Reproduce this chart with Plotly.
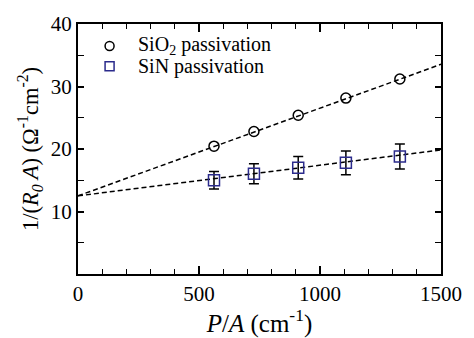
import plotly.graph_objects as go

# Data
pa_x = [562, 727, 910, 1107, 1330]
sio2_y = [20.45, 22.8, 25.4, 28.15, 31.2]
sin_y = [15.0, 16.05, 17.0, 17.8, 18.8]
sin_err = [1.4, 1.6, 1.8, 1.9, 2.0]
fit_x = [0, 1500]
fit_sio2 = [12.5, 33.55]
fit_sin = [12.5, 19.85]
legend_names = ["SiO<sub>2</sub> passivation", "SiN passivation"]

FONT = "Liberation Serif"
navy = "#2b2b8c"

fig = go.Figure()
fig.add_trace(go.Scatter(x=fit_x, y=fit_sio2, mode="lines", showlegend=False,
                         line=dict(color="black", width=1.5, dash="5px,3px")))
fig.add_trace(go.Scatter(x=fit_x, y=fit_sin, mode="lines", showlegend=False,
                         line=dict(color="black", width=1.5, dash="5px,3px")))
fig.add_trace(go.Scatter(x=pa_x, y=sio2_y, mode="markers", name=legend_names[0], showlegend=False,
                         marker=dict(symbol="circle-open", size=10, color="black",
                                     line=dict(width=1.5, color="black"))))
fig.add_trace(go.Scatter(x=pa_x, y=sin_y, mode="markers", name=legend_names[1], showlegend=False,
                         error_y=dict(type="data", array=sin_err, color="black", thickness=1.5, width=5),
                         marker=dict(symbol="square-open", size=11, color=navy,
                                     line=dict(width=1.5, color=navy))))

# manual legend
leg_x, leg_y = 0.087, [0.912, 0.831]
fig.add_shape(type="circle", xref="paper", yref="paper", xsizemode="pixel", ysizemode="pixel",
              xanchor=leg_x, yanchor=leg_y[0], x0=-4.5, x1=4.5, y0=-4.5, y1=4.5,
              line=dict(color="black", width=1.5))
fig.add_shape(type="rect", xref="paper", yref="paper", xsizemode="pixel", ysizemode="pixel",
              xanchor=leg_x, yanchor=leg_y[1], x0=-4.5, x1=4.5, y0=-4.5, y1=4.5,
              line=dict(color=navy, width=1.5))
for name, yy in zip(legend_names, leg_y):
    fig.add_annotation(text=name, xref="paper", yref="paper", x=0.161, y=yy,
                       xanchor="left", yanchor="middle", showarrow=False,
                       font=dict(family=FONT, size=20, color="black"))

axis_common = dict(showline=True, linecolor="black", linewidth=2, mirror="ticks",
                   ticks="inside", tickcolor="black", tickwidth=1.5,
                   showgrid=False, zeroline=False,
                   tickfont=dict(family=FONT, size=21, color="black"))

fig.update_layout(
    width=474, height=338,
    margin=dict(l=78, r=30, t=14, b=63),
    paper_bgcolor="white", plot_bgcolor="white",
    font=dict(family=FONT, color="black"),
    showlegend=False,
    xaxis=dict(range=[0, 1500], tickvals=[0, 500, 1000, 1500], ticklen=8,
               minor=dict(dtick=100, ticks="inside", ticklen=5, tickcolor="black", tickwidth=1.2),
               title=dict(text="<i>P</i>/<i>A</i> (cm<sup>-1</sup>)", font=dict(family=FONT, size=25), standoff=2),
               **axis_common),
    yaxis=dict(range=[0, 40], tickvals=[10, 20, 30, 40], ticklen=6,
               minor=dict(dtick=5, ticks="inside", ticklen=6, tickcolor="black", tickwidth=1.2),
               title=dict(text="1/(<i>R<sub>0</sub> A</i>) (Ω<sup>-1</sup>cm<sup>-2</sup>)", font=dict(family=FONT, size=22.5), standoff=6),
               **axis_common),
)

fig.write_html("out.html")
